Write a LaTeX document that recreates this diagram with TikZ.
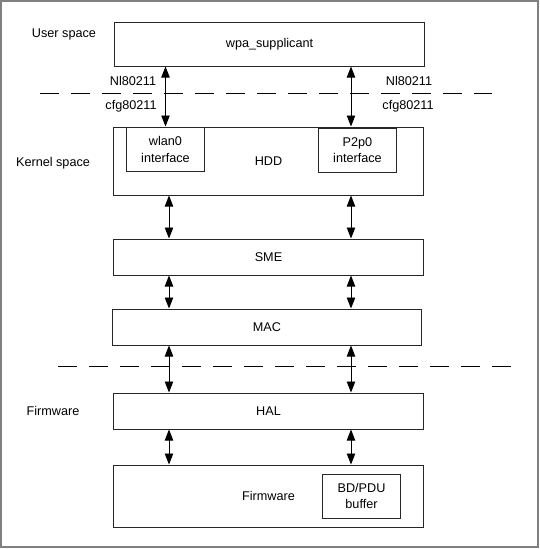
\documentclass[tikz,border=0pt]{standalone}
\usepackage{fontspec}
\setmainfont{Liberation Sans}
\usetikzlibrary{arrows.meta}
\definecolor{framegray}{HTML}{808080}
\definecolor{boxedge}{HTML}{262626}

\begin{document}
\begin{tikzpicture}[
    x=0.025cm, y=-0.025cm,
    font=\fontsize{9}{11.5}\selectfont,
    layer/.style={rectangle, draw=boxedge, fill=white, line width=0.7pt, minimum width=7.725cm, minimum height=0.9cm, align=center, inner sep=0pt},
    inbox/.style={rectangle, draw=boxedge, fill=white, line width=0.7pt, minimum width=1.925cm, minimum height=1.1cm, align=center, inner sep=0pt},
    lbl/.style={inner sep=0pt, align=center},
    fl/.style={{Triangle[length=2.75mm, width=2.1mm]}-{Triangle[length=2.75mm, width=2.1mm]}, line width=0.7pt, draw=black},
    sep/.style={line width=0.7pt, draw=black, dash pattern=on 0.475cm off 0.3cm}
  ]
  \useasboundingbox (0,0) rectangle (540,549);
  \draw[framegray, line width=0.05cm] (1,1) rectangle (538,547);

  \node[layer, minimum height=1.1cm]  (wpa) at (269.5, 44) {wpa\_supplicant};
  \node[layer, minimum height=1.7cm]  (hdd) at (268.5, 161) {HDD};
  \node[inbox] (wlan) at (165.5, 149.5) {wlan0\\interface};
  \node[inbox] (p2p)  at (357.5, 150.5) {P2p0\\interface};
  \node[layer] (sme) at (268.5, 257) {SME};
  \node[layer] (mac) at (267, 327) {MAC};
  \node[layer] (hal) at (268.5, 411) {HAL};
  \node[layer, minimum height=1.55cm] (fw) at (268.5, 496) {Firmware};
  \node[inbox] (bd) at (361.5, 496) {BD/PDU\\buffer};

  \node[lbl] (user)   at (64, 34)  {User space};
  \node[lbl] (kernel) at (53, 163) {Kernel space};
  \node[lbl] (firm)   at (53, 411) {Firmware};
  \node[lbl] (nl1)  at (133, 81)  {Nl80211};
  \node[lbl] (cfg1) at (131, 106) {cfg80211};
  \node[lbl] (nl2)  at (409, 81)  {Nl80211};
  \node[lbl] (cfg2) at (408, 106) {cfg80211};

  \coordinate (la) at (169, 0);
  \coordinate (ra) at (351, 0);

  \draw[sep] (40, 93) -- (492, 93);
  \draw[sep] (58, 366) -- (511, 366);

  \draw[fl] (wpa.south -| wlan.north) -- (hdd.north -| wlan.north);
  \draw[fl] (wpa.south -| ra) -- (hdd.north -| ra);
  \draw[fl] (hdd.south -| la) -- (sme.north -| la);
  \draw[fl] (hdd.south -| ra) -- (sme.north -| ra);
  \draw[fl] (sme.south -| la) -- (mac.north -| la);
  \draw[fl] (sme.south -| ra) -- (mac.north -| ra);
  \draw[fl] (mac.south -| la) -- (hal.north -| la);
  \draw[fl] (mac.south -| ra) -- (hal.north -| ra);
  \draw[fl] (hal.south -| la) -- (fw.north -| la);
  \draw[fl] (hal.south -| ra) -- (fw.north -| ra);
\end{tikzpicture}
\end{document}
